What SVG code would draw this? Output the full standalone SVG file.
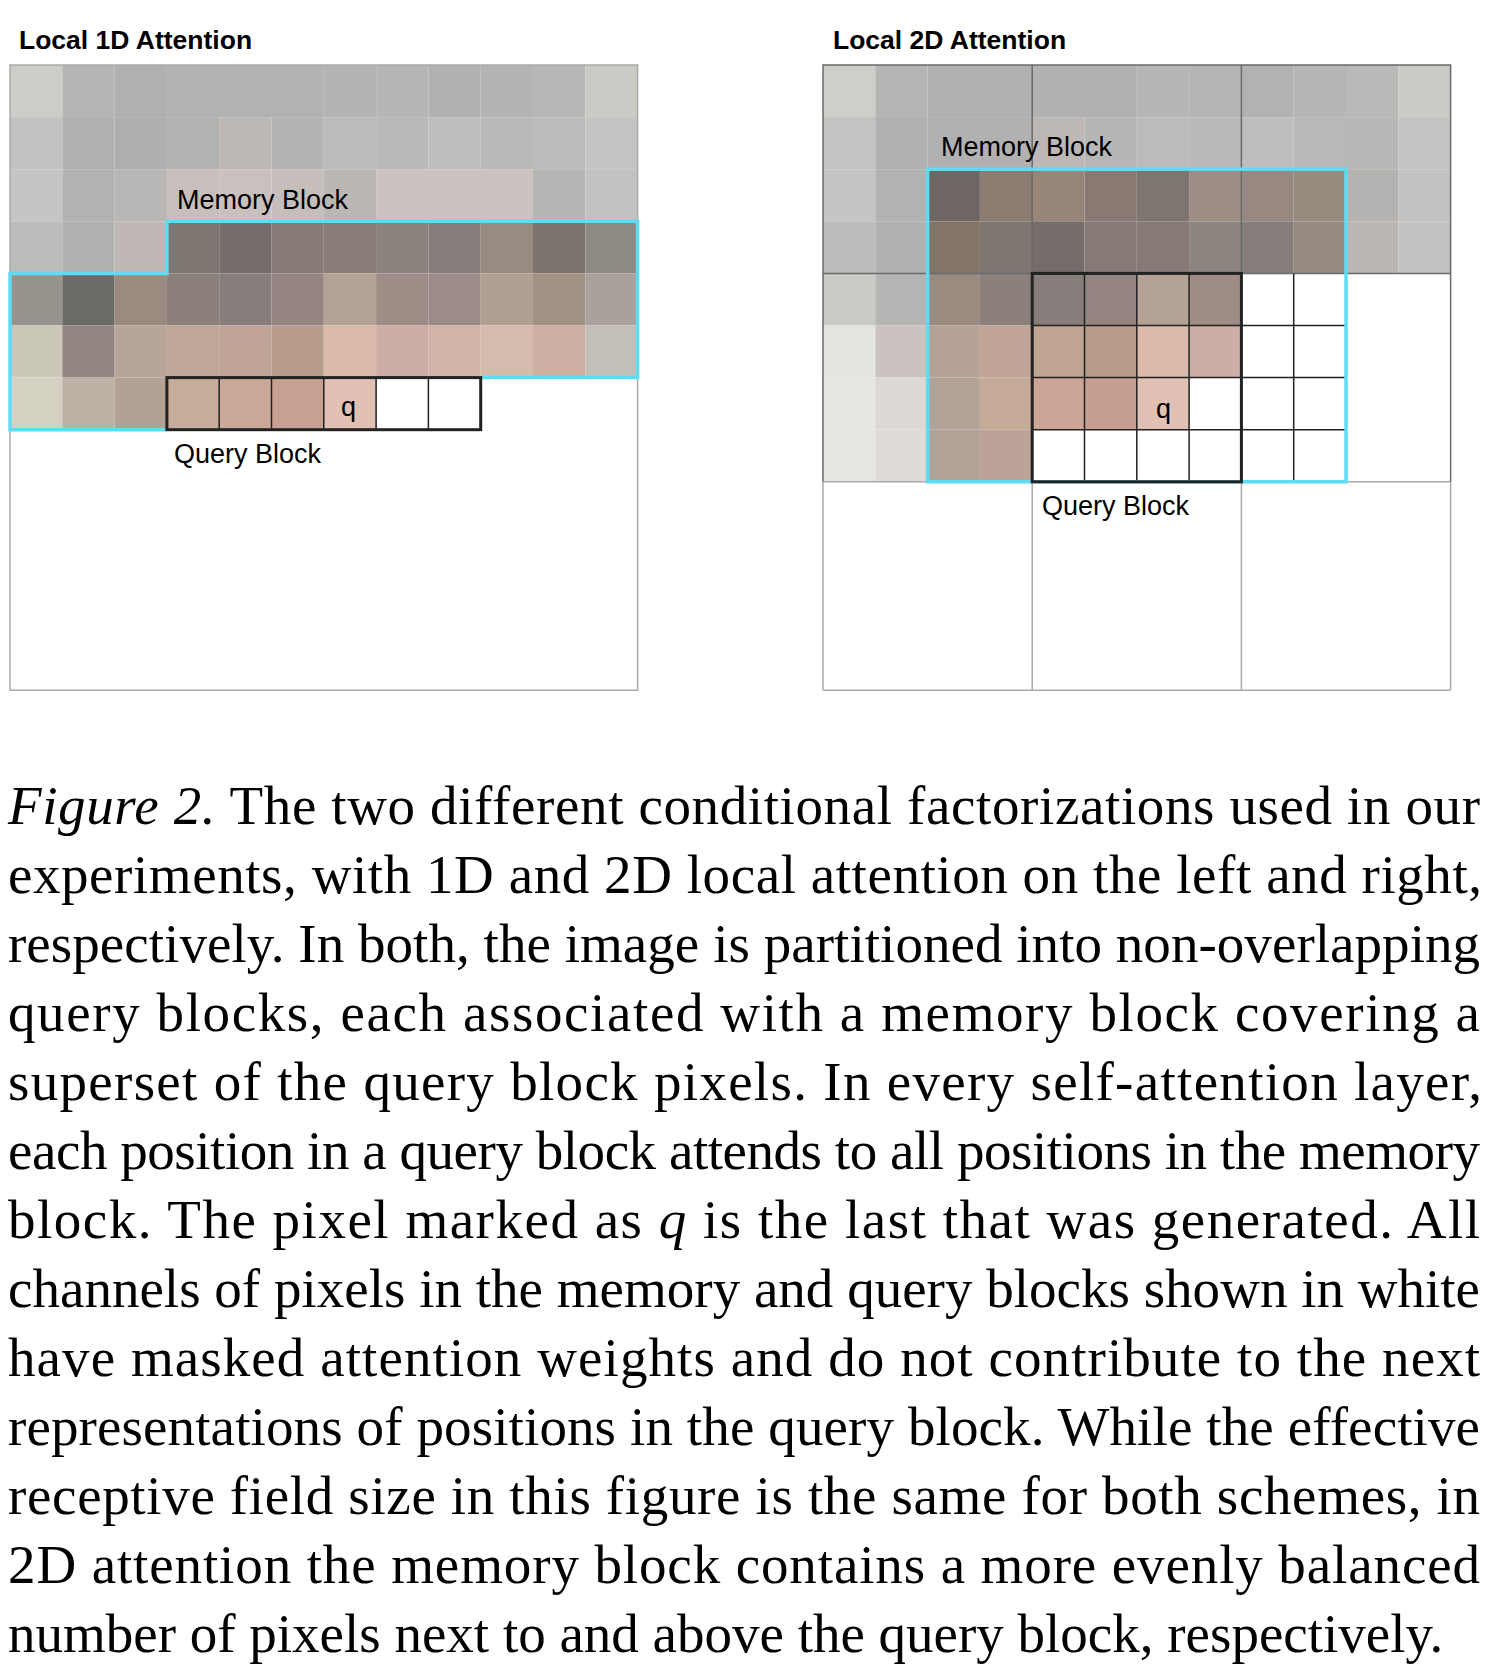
<svg xmlns="http://www.w3.org/2000/svg" width="1490" height="1680" viewBox="0 0 1490 1680">
<style>
.t{font-family:"Liberation Sans",Arial,sans-serif;font-weight:bold;font-size:26.5px;fill:#000}
.l{font-family:"Liberation Sans",Arial,sans-serif;font-size:27px;fill:#000}
.c{font-family:"Liberation Serif","Times New Roman",serif;font-size:55px;fill:#000}
.cy{fill:none;stroke:#5fdcf5;stroke-width:3.5}
.qb{fill:none;stroke:#222;stroke-width:3}
.gl{stroke:#222;stroke-width:1.5}
</style>
<rect width="1490" height="1680" fill="#fff"/>
<g id="left">
<text class="t" x="19" y="49">Local 1D Attention</text>
<g transform="translate(10,65) scale(52.3,52.1)">
<rect x="0" y="0" width="1" height="1" fill="#cdccc8"/><rect x="1" y="0" width="1" height="1" fill="#b5b5b4"/><rect x="2" y="0" width="1" height="1" fill="#b0b0b0"/><rect x="3" y="0" width="3" height="1" fill="#b2b2b2"/><rect x="6" y="0" width="1" height="1" fill="#b4b4b4"/><rect x="7" y="0" width="1" height="1" fill="#b6b6b5"/><rect x="8" y="0" width="1" height="1" fill="#b1b1b0"/><rect x="9" y="0" width="1" height="1" fill="#b4b4b3"/><rect x="10" y="0" width="1" height="1" fill="#b7b7b6"/><rect x="11" y="0" width="1" height="1" fill="#cbcbc6"/>
<rect x="0" y="1" width="1" height="1" fill="#c3c2c0"/><rect x="1" y="1" width="1" height="1" fill="#b0b0b0"/><rect x="2" y="1" width="1" height="1" fill="#afafaf"/><rect x="3" y="1" width="1" height="1" fill="#b2b2b1"/><rect x="4" y="1" width="1" height="1" fill="#bdb8b5"/><rect x="5" y="1" width="1" height="1" fill="#b4b4b3"/><rect x="6" y="1" width="1" height="1" fill="#bcbbb9"/><rect x="7" y="1" width="1" height="1" fill="#b9b9b8"/><rect x="8" y="1" width="1" height="1" fill="#bebebc"/><rect x="9" y="1" width="1" height="1" fill="#b9b9b8"/><rect x="10" y="1" width="1" height="1" fill="#bbbbba"/><rect x="11" y="1" width="1" height="1" fill="#c5c4c2"/>
<rect x="0" y="2" width="1" height="1" fill="#c6c5c3"/><rect x="1" y="2" width="1" height="1" fill="#b2b2b1"/><rect x="2" y="2" width="1" height="1" fill="#b9b7b6"/><rect x="3" y="2" width="1" height="1" fill="#c6bfbc"/><rect x="4" y="2" width="1" height="1" fill="#c8c1be"/><rect x="5" y="2" width="1" height="1" fill="#c6bebb"/><rect x="6" y="2" width="1" height="1" fill="#bbb7b5"/><rect x="7" y="2" width="3" height="1" fill="#cbc3c1"/><rect x="10" y="2" width="1" height="1" fill="#b5b5b3"/><rect x="11" y="2" width="1" height="1" fill="#c3c2c0"/>
<rect x="0" y="3" width="1" height="1" fill="#bcbcbb"/><rect x="1" y="3" width="1" height="1" fill="#b1b1b0"/><rect x="2" y="3" width="1" height="1" fill="#c0b8b5"/><rect x="3" y="3" width="1" height="1" fill="#7e7670"/><rect x="4" y="3" width="1" height="1" fill="#766d6a"/><rect x="5" y="3" width="1" height="1" fill="#857a76"/><rect x="6" y="3" width="1" height="1" fill="#8a7d78"/><rect x="7" y="3" width="1" height="1" fill="#8c837e"/><rect x="8" y="3" width="1" height="1" fill="#877d7a"/><rect x="9" y="3" width="1" height="1" fill="#988b82"/><rect x="10" y="3" width="1" height="1" fill="#7d736f"/><rect x="11" y="3" width="1" height="1" fill="#8e8a84"/>
<rect x="0" y="4" width="1" height="1" fill="#98938c"/><rect x="1" y="4" width="1" height="1" fill="#6c6a67"/><rect x="2" y="4" width="1" height="1" fill="#9c8a80"/><rect x="3" y="4" width="1" height="1" fill="#8b807a"/><rect x="4" y="4" width="1" height="1" fill="#877d7a"/><rect x="5" y="4" width="1" height="1" fill="#948580"/><rect x="6" y="4" width="1" height="1" fill="#b4a297"/><rect x="7" y="4" width="1" height="1" fill="#a08c87"/><rect x="8" y="4" width="1" height="1" fill="#9b8c89"/><rect x="9" y="4" width="1" height="1" fill="#b29f93"/><rect x="10" y="4" width="1" height="1" fill="#a29185"/><rect x="11" y="4" width="1" height="1" fill="#aaa19c"/>
<rect x="0" y="5" width="1" height="1" fill="#cbc7b9"/><rect x="1" y="5" width="1" height="1" fill="#928580"/><rect x="2" y="5" width="1" height="1" fill="#b8a599"/><rect x="3" y="5" width="1" height="1" fill="#c1a797"/><rect x="4" y="5" width="1" height="1" fill="#c0a497"/><rect x="5" y="5" width="1" height="1" fill="#b89c8c"/><rect x="6" y="5" width="1" height="1" fill="#dbbaaa"/><rect x="7" y="5" width="1" height="1" fill="#cbafa6"/><rect x="8" y="5" width="1" height="1" fill="#d1b4a8"/><rect x="9" y="5" width="1" height="1" fill="#d5bbac"/><rect x="10" y="5" width="1" height="1" fill="#cdb0a2"/><rect x="11" y="5" width="1" height="1" fill="#c4beb8"/>
<rect x="0" y="6" width="1" height="1" fill="#d4d1c2"/><rect x="1" y="6" width="1" height="1" fill="#bdb0a5"/><rect x="2" y="6" width="1" height="1" fill="#b3a194"/><rect x="3" y="6" width="1" height="1" fill="#c6ac9b"/><rect x="4" y="6" width="1" height="1" fill="#cba797"/><rect x="5" y="6" width="1" height="1" fill="#c5a093"/><rect x="6" y="6" width="1" height="1" fill="#e0c1b4"/>
</g>
<rect x="10" y="65" width="627.6" height="625.2" fill="none" stroke="#aaa" stroke-width="1.5"/>
<path class="cy" d="M166.9,429.7 L10,429.7 L10,273.4 L166.9,273.4 L166.9,221.3 L637.6,221.3 L637.6,377.6 L480.7,377.6"/>
<path class="gl" d="M219.2,377.6V429.7M271.5,377.6V429.7M323.8,377.6V429.7M376.1,377.6V429.7M428.4,377.6V429.7"/>
<rect class="qb" x="166.9" y="377.6" width="313.8" height="52.1"/>
<text class="l" x="177" y="209">Memory Block</text>
<text class="l" x="341" y="416">q</text>
<text class="l" x="174" y="463">Query Block</text>
</g>
<g id="right">
<text class="t" x="833" y="49">Local 2D Attention</text>
<g transform="translate(823,65) scale(52.3,52.1)">
<rect x="0" y="0" width="1" height="1" fill="#cfcecb"/><rect x="1" y="0" width="1" height="1" fill="#b5b5b4"/><rect x="2" y="0" width="4" height="1" fill="#b1b1b1"/><rect x="6" y="0" width="1" height="1" fill="#b6b6b5"/><rect x="7" y="0" width="1" height="1" fill="#b5b5b4"/><rect x="8" y="0" width="1" height="1" fill="#b2b2b1"/><rect x="9" y="0" width="1" height="1" fill="#b6b6b5"/><rect x="10" y="0" width="1" height="1" fill="#b9b9b8"/><rect x="11" y="0" width="1" height="1" fill="#cbcbc6"/>
<rect x="0" y="1" width="1" height="1" fill="#c4c3c1"/><rect x="1" y="1" width="1" height="1" fill="#b0b0b0"/><rect x="2" y="1" width="2" height="1" fill="#b1b1b1"/><rect x="4" y="1" width="1" height="1" fill="#bdb8b5"/><rect x="5" y="1" width="1" height="1" fill="#b6b6b5"/><rect x="6" y="1" width="1" height="1" fill="#bcbbb9"/><rect x="7" y="1" width="1" height="1" fill="#b9b9b8"/><rect x="8" y="1" width="1" height="1" fill="#bebebc"/><rect x="9" y="1" width="1" height="1" fill="#b9b9b8"/><rect x="10" y="1" width="1" height="1" fill="#b7b7b6"/><rect x="11" y="1" width="1" height="1" fill="#c4c3c1"/>
<rect x="0" y="2" width="1" height="1" fill="#c6c5c3"/><rect x="1" y="2" width="1" height="1" fill="#b2b2b1"/><rect x="2" y="2" width="1" height="1" fill="#6e6663"/><rect x="3" y="2" width="1" height="1" fill="#8d7c72"/><rect x="4" y="2" width="1" height="1" fill="#988579"/><rect x="5" y="2" width="1" height="1" fill="#887972"/><rect x="6" y="2" width="1" height="1" fill="#7e7470"/><rect x="7" y="2" width="1" height="1" fill="#9f8d85"/><rect x="8" y="2" width="1" height="1" fill="#978881"/><rect x="9" y="2" width="1" height="1" fill="#978a7f"/><rect x="10" y="2" width="1" height="1" fill="#b5b3b1"/><rect x="11" y="2" width="1" height="1" fill="#c3c2c0"/>
<rect x="0" y="3" width="1" height="1" fill="#bcbcbb"/><rect x="1" y="3" width="1" height="1" fill="#b1b1b0"/><rect x="2" y="3" width="1" height="1" fill="#857569"/><rect x="3" y="3" width="1" height="1" fill="#7f7670"/><rect x="4" y="3" width="1" height="1" fill="#766d6a"/><rect x="5" y="3" width="1" height="1" fill="#857a76"/><rect x="6" y="3" width="1" height="1" fill="#877a76"/><rect x="7" y="3" width="1" height="1" fill="#8c857f"/><rect x="8" y="3" width="1" height="1" fill="#877d7a"/><rect x="9" y="3" width="1" height="1" fill="#978a80"/><rect x="10" y="3" width="1" height="1" fill="#bbb6b2"/><rect x="11" y="3" width="1" height="1" fill="#c3c2c0"/>
<rect x="0" y="4" width="1" height="1" fill="#cbcac6"/><rect x="1" y="4" width="1" height="1" fill="#b5b5b4"/><rect x="2" y="4" width="1" height="1" fill="#9b8a80"/><rect x="3" y="4" width="1" height="1" fill="#8b807a"/><rect x="4" y="4" width="1" height="1" fill="#877d7a"/><rect x="5" y="4" width="1" height="1" fill="#958580"/><rect x="6" y="4" width="1" height="1" fill="#b4a297"/><rect x="7" y="4" width="1" height="1" fill="#a08c87"/>
<rect x="0" y="5" width="1" height="1" fill="#e4e3df"/><rect x="1" y="5" width="1" height="1" fill="#cac3bf"/><rect x="2" y="5" width="1" height="1" fill="#b6a196"/><rect x="3" y="5" width="1" height="1" fill="#c0a597"/><rect x="4" y="5" width="1" height="1" fill="#c0a494"/><rect x="5" y="5" width="1" height="1" fill="#b69b8a"/><rect x="6" y="5" width="1" height="1" fill="#dbbaaa"/><rect x="7" y="5" width="1" height="1" fill="#cbafa6"/>
<rect x="0" y="6" width="1" height="1" fill="#e8e7e2"/><rect x="1" y="6" width="1" height="1" fill="#ddd8d3"/><rect x="2" y="6" width="1" height="1" fill="#b3a298"/><rect x="3" y="6" width="1" height="1" fill="#c6aa98"/><rect x="4" y="6" width="1" height="1" fill="#cba597"/><rect x="5" y="6" width="1" height="1" fill="#c49f92"/><rect x="6" y="6" width="1" height="1" fill="#e0c1b4"/>
<rect x="0" y="7" width="1" height="1" fill="#e6e5df"/><rect x="1" y="7" width="1" height="1" fill="#dfdbd6"/><rect x="2" y="7" width="1" height="1" fill="#b2a398"/><rect x="3" y="7" width="1" height="1" fill="#bba398"/>
</g>
<path d="M1032.2,481.8V690.2M1241.4,481.8V690.2M823,481.8H1450.6M823,690.2V481.8M1450.6,690.2V481.8M823,690.2H1450.6" stroke="#aaa" stroke-width="1.5" fill="none"/>
<path d="M823,481.8V65H1450.6V481.8M1032.2,65V481.8M1241.4,65V481.8M823,273.4H1450.6" stroke="#6a6a6a" stroke-width="1.5" fill="none"/>
<path class="gl" d="M1084.5,273.4V481.8M1136.8,273.4V481.8M1189.1,273.4V481.8M1293.7,273.4V481.8M1032.2,325.5H1346M1032.2,377.6H1346M1032.2,429.7H1346"/>
<rect class="cy" x="927.6" y="169.2" width="418.4" height="312.6"/>
<rect class="qb" x="1032.2" y="273.4" width="209.2" height="208.4"/>
<text class="l" x="941" y="156">Memory Block</text>
<text class="l" x="1156" y="418">q</text>
<text class="l" x="1042" y="515">Query Block</text>
</g>
<g id="caption" class="c">
<text x="8" y="824" textLength="1472" lengthAdjust="spacing"><tspan font-style="italic">Figure 2.</tspan> The two different conditional factorizations used in our</text>
<text x="8" y="893" textLength="1474" lengthAdjust="spacing">experiments, with 1D and 2D local attention on the left and right,</text>
<text x="8" y="962" textLength="1472" lengthAdjust="spacing">respectively. In both, the image is partitioned into non-overlapping</text>
<text x="8" y="1031" textLength="1472" lengthAdjust="spacing">query blocks, each associated with a memory block covering a</text>
<text x="8" y="1100" textLength="1474" lengthAdjust="spacing">superset of the query block pixels.  In every self-attention layer,</text>
<text x="8" y="1169" textLength="1472" lengthAdjust="spacing">each position in a query block attends to all positions in the memory</text>
<text x="8" y="1238" textLength="1472" lengthAdjust="spacing">block.  The pixel marked as <tspan font-style="italic">q</tspan> is the last that was generated.  All</text>
<text x="8" y="1307" textLength="1472" lengthAdjust="spacing">channels of pixels in the memory and query blocks shown in white</text>
<text x="8" y="1376" textLength="1472" lengthAdjust="spacing">have masked attention weights and do not contribute to the next</text>
<text x="8" y="1445" textLength="1472" lengthAdjust="spacing">representations of positions in the query block. While the effective</text>
<text x="8" y="1514" textLength="1472" lengthAdjust="spacing">receptive field size in this figure is the same for both schemes, in</text>
<text x="8" y="1583" textLength="1472" lengthAdjust="spacing">2D attention the memory block contains a more evenly balanced</text>
<text x="8" y="1652">number of pixels next to and above the query block, respectively.</text>
</g>
</svg>
